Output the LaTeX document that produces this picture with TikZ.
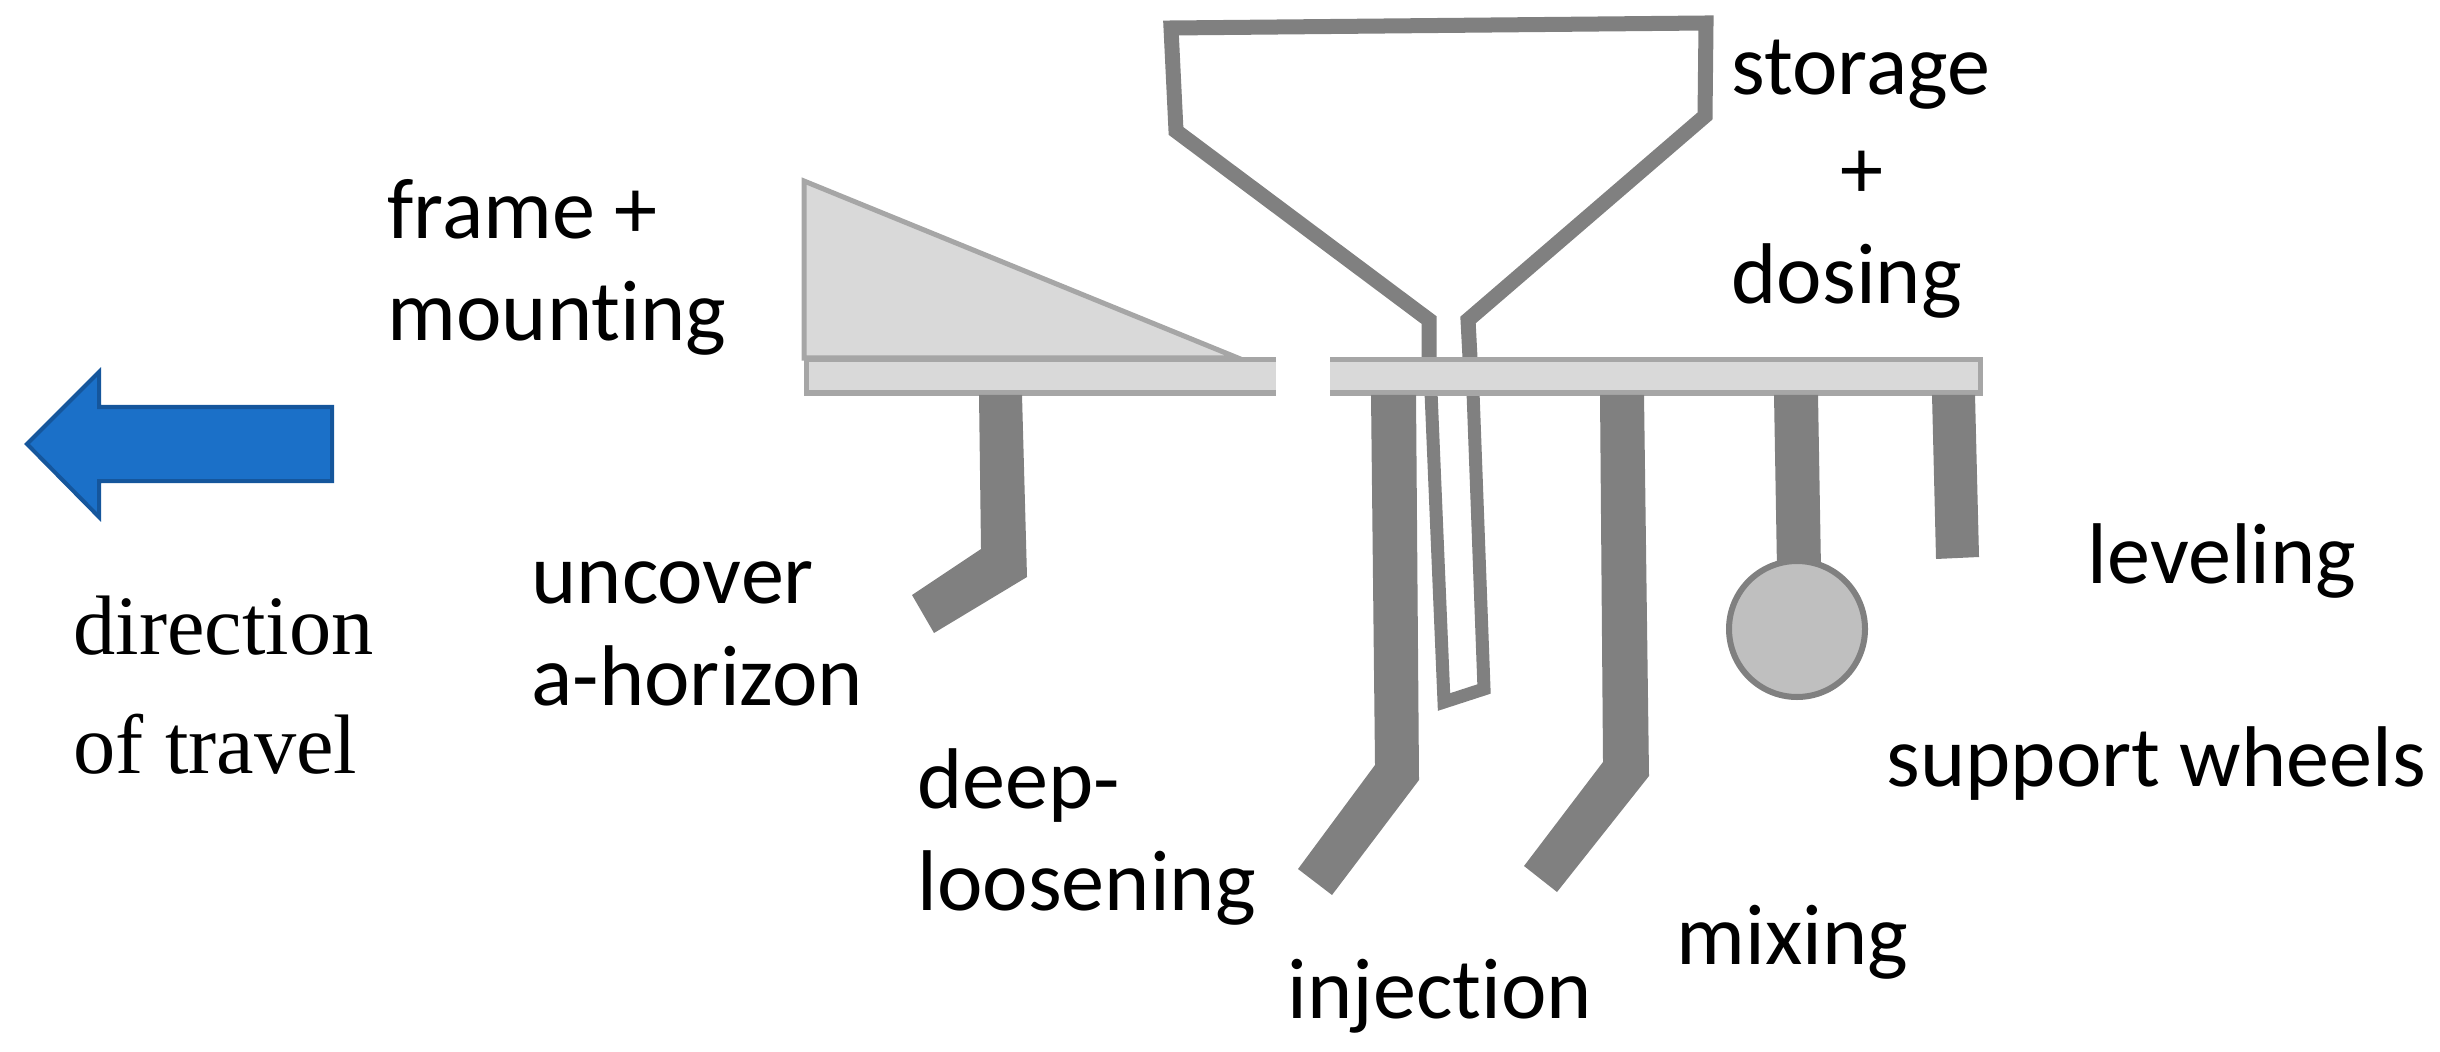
\documentclass[tikz,border=0pt]{standalone}
\usepackage{fontspec}
\setmainfont[Ligatures=NoCommon]{Carlito}
\newfontfamily\travelfont{Liberation Serif}
\definecolor{W}{HTML}{808080}
\definecolor{F}{HTML}{D9D9D9}
\definecolor{L}{HTML}{A6A6A6}
\definecolor{C}{HTML}{BFBFBF}
\definecolor{A}{HTML}{1B70C8}
\definecolor{D}{HTML}{15569C}
\tikzset{
	lbl/.style={font=\fontsize{24.5}{29}\selectfont, align=left, inner sep=0pt, anchor=north west},
	travel/.style={lbl, font=\travelfont\fontsize{24}{34}\selectfont},
	wall/.style={draw=W, line width=0.15cm, miter limit=10},
	frameline/.style={draw=L, line width=0.05cm}
}
\begin{document}
\begin{tikzpicture}[x=0.01cm, y=-0.01cm]
	\useasboundingbox (0,0) rectangle (2440,1052);

	% Arrow
	\filldraw[fill=A, draw=D, line width=0.04cm] (27,444) -- (99,372) -- (99,407) -- (332,407) -- (332,481) -- (99,481) -- (99,517) -- cycle;

	% Mounting
	\filldraw[fill=F, frameline] (804,181) -- (804,358) -- (1238,358) -- cycle;

	% Hopper
	\draw[wall] (1429,358) -- (1429,320) -- (1176,131) -- (1171,28) -- (1706,23) -- (1705,116) -- (1468,320) -- (1470,358);

	% Tube
	\draw[wall, line width=0.13cm] (1431,392) -- (1444,702) -- (1484,689) -- (1473,392);

	% Frame, the two parts
	\fill[F] (804,358) rectangle (1276,394);
	\draw[frameline] (1276,359.5) -- (806.5,359.5) -- (806.5,393) -- (1276,393);
	\fill[F] (1330,358) rectangle (1982,394);
	\draw[frameline] (1330,359.5) -- (1980.5,359.5) -- (1980.5,393) -- (1330,393);

	% Shanks
	\fill[W] (979,395) -- (1022,395) -- (1027,577) -- (934,633) -- (912,595) -- (981,549) -- cycle;
	\fill[W] (1371,395) -- (1416,395) -- (1419,780) -- (1332,895) -- (1298,869) -- (1375,765) -- cycle;
	\fill[W] (1600,395) -- (1644,395) -- (1649,776) -- (1557,892) -- (1524,866) -- (1603,762) -- cycle;
	\fill[W] (1774,395) -- (1818,395) -- (1821,570) -- (1777,570) -- cycle;
	\fill[W] (1932,395) -- (1975,395) -- (1979,557) -- (1936,559) -- cycle;

	% Wheel
	\filldraw[fill=C, draw=W, line width=0.06cm] (1797,629) circle (68);

	% Labels
	\node[lbl] (mounting) at (387,179) {frame +\\mounting};
	\node[lbl] (storage) at (1731,39) {storage\\[0.7pt]\hspace*{31pt}+\\[0.7pt]dosing};
	\node[lbl] (uncover) at (531,561) {uncover\\a-horizon};
	\node[lbl] (deep) at (917,748) {deep-\\loosening};
	\node[lbl] (injection) at (1287,959) {injection};
	\node[lbl] (mixing) at (1676,905) {mixing};
	\node[lbl] (leveling) at (2087,523) {leveling};
	\node[lbl] (wheels) at (1886,726) {support wheels};
	\node[travel] (direction) at (73,595) {direction\\of travel};
\end{tikzpicture}
\end{document}
